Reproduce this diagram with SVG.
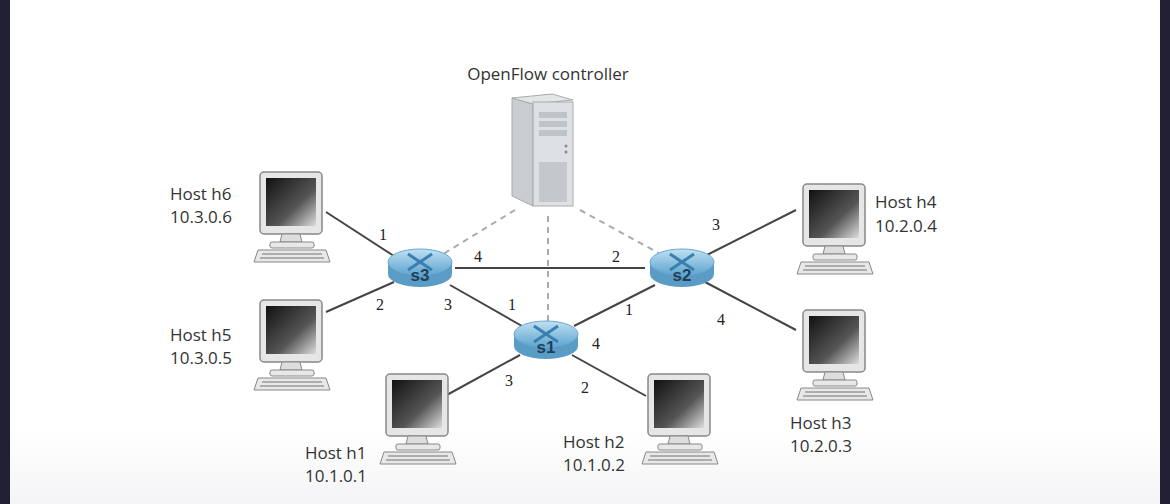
<svg xmlns="http://www.w3.org/2000/svg" width="1170" height="504" viewBox="0 0 1170 504">
<defs>
<linearGradient id="scr" x1="0" y1="0" x2="1" y2="1"><stop offset="0" stop-color="#111"/><stop offset="0.6" stop-color="#555"/><stop offset="1" stop-color="#ddd"/></linearGradient>
<linearGradient id="swg" x1="0" y1="0" x2="0" y2="1"><stop offset="0" stop-color="#bfe0f2"/><stop offset="1" stop-color="#5fa5cf"/></linearGradient>
<linearGradient id="bg" x1="0" y1="0" x2="0" y2="1"><stop offset="0.85" stop-color="#fff"/><stop offset="1" stop-color="#f4f4f6"/></linearGradient>
<symbol id="pc" viewBox="0 0 80 95" width="80" height="95">
<rect x="8" y="2" width="62" height="62" rx="4" fill="#e6e6e6" stroke="#888" stroke-width="1.5"/>
<rect x="14" y="8" width="50" height="48" fill="url(#scr)"/>
<path d="M30 64 L48 64 L50 72 L28 72 Z" fill="#ddd" stroke="#888"/>
<rect x="18" y="72" width="44" height="6" rx="2" fill="#e8e8e8" stroke="#888"/>
<path d="M6 80 L74 80 L78 92 L2 92 Z" fill="#e8e8e8" stroke="#888"/>
<path d="M10 84 L70 84 M8 88 L72 88" stroke="#999" stroke-width="1.5"/>
</symbol>
<symbol id="swi" viewBox="-34 -20 68 40" width="68" height="40">
<ellipse cx="0" cy="6" rx="32" ry="13" fill="#5a9cc6"/>
<rect x="-32" y="-6" width="64" height="12" fill="#5a9cc6"/>
<ellipse cx="0" cy="-6" rx="32" ry="13" fill="url(#swg)" stroke="#6aa9d0"/>
<path d="M-12 -14 L12 2 M12 -14 L-12 2" stroke="#3b7fb0" stroke-width="3"/>
</symbol>
</defs>
<style>
.l{stroke:#444;stroke-width:2;fill:none}
.d{stroke:#aaa;stroke-width:2;stroke-dasharray:6 5;fill:none}
.t{font-family:"Open Sans","Liberation Sans",sans-serif;font-size:17px;fill:#333}
.p{font-family:"Liberation Serif",serif;font-size:16px;fill:#222}
.s{font-family:"Liberation Sans",sans-serif;font-size:17px;font-weight:bold;fill:#1d3f5a}
</style>
<rect width="1170" height="504" fill="#222035"/>
<rect x="10" y="0" width="1150" height="504" fill="url(#bg)"/>
<g id="connectors">
<path class="d" d="M515 210 L440 256"/>
<path class="d" d="M548 216 L548 326"/>
<path class="d" d="M580 210 L664 256"/>
<path class="l" d="M455 268 L645 268"/>
<path class="l" d="M450 285 L522 326"/>
<path class="l" d="M574 326 L655 285"/>
<path class="l" d="M326 212 L394 256"/>
<path class="l" d="M326 312 L394 282"/>
<path class="l" d="M445 396 L520 355"/>
<path class="l" d="M572 355 L646 396"/>
<path class="l" d="M705 256 L796 210"/>
<path class="l" d="M705 282 L796 330"/>
</g>
<g id="controller">
<path d="M512 98 L533 104 L533 206 L512 196 Z" fill="#c9cdd2" stroke="#aaa"/>
<path d="M512 98 L552 94 L573 100 L533 104 Z" fill="#e3e6e9" stroke="#aaa"/>
<rect x="533" y="102" width="40" height="104" fill="#dde1e5" stroke="#aaa"/>
<rect x="539" y="112" width="28" height="6" fill="#bfc4c9"/>
<rect x="539" y="121" width="28" height="6" fill="#bfc4c9"/>
<rect x="539" y="130" width="28" height="6" fill="#bfc4c9"/>
<circle cx="566" cy="146" r="1.5" fill="#888"/><circle cx="566" cy="152" r="1.5" fill="#888"/>
<rect x="539" y="162" width="28" height="40" fill="#c4c8cd"/>
<text class="t" x="548" y="80" text-anchor="middle">OpenFlow controller</text>
</g>
<g id="s3"><use href="#swi" x="386" y="248"/><text class="s" x="420" y="281" text-anchor="middle">s3</text></g>
<g id="s2"><use href="#swi" x="648" y="248"/><text class="s" x="682" y="281" text-anchor="middle">s2</text></g>
<g id="s1"><use href="#swi" x="512" y="320"/><text class="s" x="546" y="353" text-anchor="middle">s1</text></g>
<g id="h6"><use href="#pc" x="252" y="170"/><text class="t" x="170" y="200">Host h6</text><text class="t" x="170" y="223">10.3.0.6</text></g>
<g id="h5"><use href="#pc" x="252" y="298"/><text class="t" x="170" y="341">Host h5</text><text class="t" x="170" y="364">10.3.0.5</text></g>
<g id="h1"><use href="#pc" x="378" y="372"/><text class="t" x="305" y="459">Host h1</text><text class="t" x="305" y="482">10.1.0.1</text></g>
<g id="h2"><use href="#pc" x="640" y="372"/><text class="t" x="563" y="448">Host h2</text><text class="t" x="563" y="471">10.1.0.2</text></g>
<g id="h4"><use href="#pc" x="795" y="182"/><text class="t" x="875" y="208">Host h4</text><text class="t" x="875" y="232">10.2.0.4</text></g>
<g id="h3"><use href="#pc" x="795" y="308"/><text class="t" x="790" y="429">Host h3</text><text class="t" x="790" y="452">10.2.0.3</text></g>
<g id="ports">
<text class="p" x="379" y="240">1</text><text class="p" x="376" y="310">2</text>
<text class="p" x="474" y="262">4</text><text class="p" x="444" y="310">3</text>
<text class="p" x="612" y="262">2</text><text class="p" x="508" y="310">1</text>
<text class="p" x="625" y="315">1</text><text class="p" x="592" y="349">4</text>
<text class="p" x="505" y="386">3</text><text class="p" x="581" y="393">2</text>
<text class="p" x="712" y="230">3</text><text class="p" x="717" y="325">4</text>
</g>
</svg>
